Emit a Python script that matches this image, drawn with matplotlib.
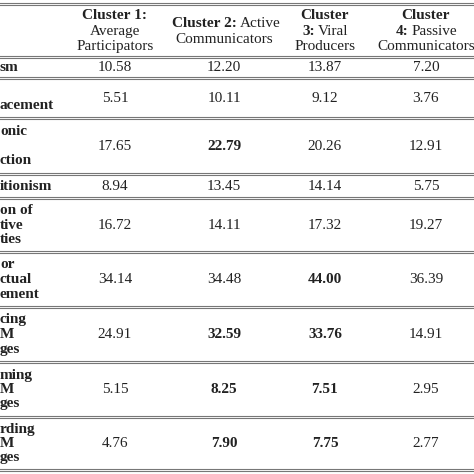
import matplotlib.pyplot as plt

labels = ["sm", "\nacement", "onic\n\nction", "itionism", "on of\ntive\nties",
          "or\nctual\nement", "cing\nM\nges", "ming\nM\nges", "rding\nM\nges"]
c1 = ["10.58", "5.51", "17.65", "8.94", "16.72", "34.14", "24.91", "5.15", "4.76"]
c2 = ["12.20", "10.11", "22.79", "13.45", "14.11", "34.48", "32.59", "8.25", "7.90"]
c3 = ["13.87", "9.12", "20.26", "14.14", "17.32", "44.00", "33.76", "7.51", "7.75"]
c4 = ["7.20", "3.76", "12.91", "5.75", "19.27", "36.39", "14.91", "2.95", "2.77"]
bold = {(2, 1), (5, 2), (6, 1), (6, 2), (7, 1), (7, 2), (8, 1), (8, 2)}

# row boundaries in pixels from the top
edges = [57, 78, 118, 174, 198, 252, 307, 362, 417, 470]
col_x = [115, 224, 325, 426]

plt.rcParams['font.family'] = ['Liberation Serif', 'DejaVu Serif']
fig = plt.figure(figsize=(4.74, 4.74), dpi=100)
ax = fig.add_axes([0, 0, 1, 1])
ax.set_xlim(0, 474)
ax.set_ylim(474, 0)
ax.axis('off')

fs = 11
col = '#222222'

def hline(y):
    ax.plot([0, 474], [y - 1, y - 1], color='#777777', lw=0.8)
    ax.plot([0, 474], [y + 1, y + 1], color='#777777', lw=0.8)

hline(4)
for e in edges:
    hline(e)

def mixed(x, y, b, n):
    t = ax.text(x, y, b + " " + n, fontsize=fs, ha='center', va='center')
    fig.canvas.draw()
    bb = t.get_window_extent().transformed(ax.transData.inverted())
    t.remove()
    t1 = ax.text(bb.x0, y, b, fontsize=fs, fontweight='bold', ha='left', va='center', color=col)
    fig.canvas.draw()
    bb1 = t1.get_window_extent().transformed(ax.transData.inverted())
    ax.text(bb1.x1 + 3, y, n, fontsize=fs, ha='left', va='center', color=col)

# header
ax.text(col_x[0], 15, "Cluster 1:", fontsize=fs, fontweight='bold', ha='center', va='center', color=col)
ax.text(col_x[0], 31, "Average", fontsize=fs, ha='center', va='center', color=col)
ax.text(col_x[0], 46, "Participators", fontsize=fs, ha='center', va='center', color=col)
mixed(col_x[1], 23, "Cluster 2:", "Active")
ax.text(col_x[1], 39, "Communicators", fontsize=fs, ha='center', va='center', color=col)
ax.text(col_x[2], 15, "Cluster", fontsize=fs, fontweight='bold', ha='center', va='center', color=col)
mixed(col_x[2], 31, "3:", "Viral")
ax.text(col_x[2], 46, "Producers", fontsize=fs, ha='center', va='center', color=col)
ax.text(col_x[3], 15, "Cluster", fontsize=fs, fontweight='bold', ha='center', va='center', color=col)
mixed(col_x[3], 31, "4:", "Passive")
ax.text(col_x[3], 46, "Communicators", fontsize=fs, ha='center', va='center', color=col)

for i, lab in enumerate(labels):
    yc = (edges[i] + edges[i + 1]) / 2
    ax.text(0, yc, lab, fontsize=fs, fontweight='bold', ha='left', va='center',
            color=col, linespacing=1.15)
    for j, vals in enumerate([c1, c2, c3, c4]):
        ax.text(col_x[j], yc, vals[i], fontsize=fs,
                fontweight='bold' if (i, j) in bold else 'normal',
                ha='center', va='center', color=col)

fig.savefig("out.png", dpi=100)
